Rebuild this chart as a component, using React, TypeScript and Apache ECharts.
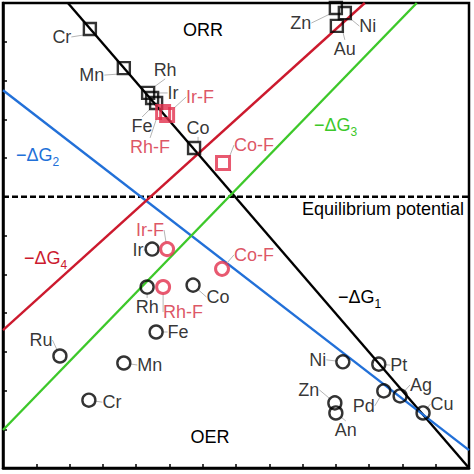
import { useEffect, useRef } from 'react';
import * as echarts from 'echarts';

const FONT = '"Liberation Sans", Arial, Helvetica, sans-serif';

// ORR (squares)
const orrNames = ['Cr', 'Mn', 'Rh', 'Ir', 'Fe', 'Co', 'Zn', 'Ni', 'Au'];
const orrX = [2.61, 3.63, 4.36, 4.48, 4.6, 5.74, 10.0, 10.27, 10.03];
const orrY = [11.33, 10.32, 9.68, 9.55, 9.42, 8.26, 11.87, 11.74, 11.41];
const orrFNames = ['Rh-F', 'Ir-F', 'Co-F'];
const orrFX = [4.81, 4.93, 6.61];
const orrFY = [9.19, 9.11, 7.87];

// OER (circles)
const oerNames = ['Ir', 'Rh', 'Co', 'Fe', 'Ru', 'Mn', 'Cr', 'Ni', 'Pt', 'Pd', 'Ag', 'Cu', 'Zn', 'An'];
const oerX = [4.48, 4.33, 5.71, 4.6, 1.71, 3.63, 2.58, 10.21, 11.29, 11.44, 11.93, 12.62, 9.97, 10.0];
const oerY = [5.65, 4.67, 4.72, 3.51, 2.89, 2.71, 1.75, 2.74, 2.68, 1.99, 1.86, 1.42, 1.68, 1.42];
const oerFNames = ['Ir-F', 'Rh-F', 'Co-F'];
const oerFX = [4.93, 4.81, 6.58];
const oerFY = [5.65, 4.67, 5.14];

// scaling lines (end points)
const dG1 = [[1.95, 12], [14, 0]];
const dG2 = [[0, 9.75], [14, 0.46]];
const dG3 = [[0, 0.98], [12.43, 12]];
const dG4 = [[0, 3.56], [10.87, 12]];
const equilibrium = [[0, 7], [14, 7]];

// label offsets in pixels (label centre relative to marker)
const orrOff = [[-28, 8], [-32, 7], [17, -23], [21, -5], [-14, 23], [4, -20], [-35, 15], [23, 13], [8, 23]];
const orrFOff = [[-13, 35], [33, -18], [31, -18]];
const oerOff = [[-14, 1], [0, 20], [25, 12], [22, 0], [-19, -16], [26, 2], [23, 2], [-25, -2], [20, 1], [-20, 15], [21, -11], [19, -9], [-26, -13], [10, 17]];
const oerFOff = [[-17, -19], [20, 25], [32, -14]];

const RED_LINE = '#cc1a2e';
const RED_MARK = '#e2304c';
const RED_TEXT = '#d42a3c';
const BLUE = '#2270d8';
const GREEN = '#3dc82a';

function points(names: string[], xs: number[], ys: number[]) {
  return names.map((n, i) => ({ name: n, value: [xs[i], ys[i]] }));
}

function markerSeries(
  names: string[], xs: number[], ys: number[], off: number[][],
  symbol: string, color: string, size: number, border: number,
) {
  return {
    type: 'scatter',
    symbol,
    symbolSize: size,
    data: points(names, xs, ys),
    itemStyle: { color: 'rgba(0,0,0,0)', borderColor: color, borderWidth: border },
    label: {
      show: true,
      position: 'inside',
      formatter: '{b}',
      color: color === '#000' ? '#000' : RED_TEXT,
      textBorderWidth: 0,
      fontSize: 18,
      fontFamily: FONT,
    },
    labelLine: { show: true, lineStyle: { color: '#b5b5b5', width: 1 } },
    labelLayout: (p: any) => ({ dx: off[p.dataIndex][0], dy: off[p.dataIndex][1] }),
    z: 5,
  };
}

function lineSeries(data: number[][], color: string, dashed = false) {
  return {
    type: 'line',
    data,
    showSymbol: false,
    symbol: 'none',
    lineStyle: { color, width: 2.4, type: dashed ? [6, 3] : 'solid' },
    z: 2,
  };
}

function subLabel(text: string, sub: string, x: number, y: number, color: string) {
  return {
    type: 'text',
    x,
    y,
    style: {
      text: `{a|${text}}{s|${sub}}`,
      fill: color,
      rich: {
        a: { fontSize: 18, fontFamily: FONT, lineHeight: 18, verticalAlign: 'top', color },
        s: { fontSize: 12, fontFamily: FONT, lineHeight: 12, padding: [10, 0, 0, 0], verticalAlign: 'top', color },
      },
    },
    z: 10,
  };
}

function plainText(text: string, x: number, y: number, align = 'center') {
  return {
    type: 'text',
    x,
    y,
    style: {
      text,
      fill: '#000',
      fontSize: 18,
      fontFamily: FONT,
      align,
      textAlign: align,
      verticalAlign: 'middle',
      textVerticalAlign: 'middle',
    },
    z: 10,
  };
}

export default function App() {
  const ref = useRef<HTMLDivElement>(null);

  useEffect(() => {
    if (!ref.current) return;
    const chart = echarts.init(ref.current, undefined, { renderer: 'svg' });

    const axisCommon = {
      type: 'value',
      interval: 1,
      axisLine: { show: true, lineStyle: { color: '#000', width: 2.5 } },
      axisTick: { show: true, inside: true, length: 4, lineStyle: { color: '#000', width: 1.5 } },
      axisLabel: { show: false },
      splitLine: { show: false },
    };

    chart.setOption({
      animation: false,
      backgroundColor: '#fff',
      grid: { left: 3, top: 3, right: 5, bottom: 6, show: true, borderColor: '#000', borderWidth: 2.5 },
      xAxis: { ...axisCommon, min: 0, max: 14 },
      yAxis: { ...axisCommon, min: 0, max: 12 },
      series: [
        lineSeries(equilibrium, '#000', true),
        lineSeries(dG1, '#000'),
        lineSeries(dG2, BLUE),
        lineSeries(dG3, GREEN),
        lineSeries(dG4, RED_LINE),
        markerSeries(orrNames, orrX, orrY, orrOff, 'rect', '#000', 12, 2.4),
        markerSeries(orrFNames, orrFX, orrFY, orrFOff, 'rect', RED_MARK, 13, 3),
        markerSeries(oerNames, oerX, oerY, oerOff, 'circle', '#000', 13, 2.4),
        markerSeries(oerFNames, oerFX, oerFY, oerFOff, 'circle', RED_MARK, 13, 3),
      ],
      graphic: [
        plainText('ORR', 203, 30),
        plainText('OER', 210, 437),
        plainText('Equilibrium potential', 464, 209, 'right'),
        subLabel('−ΔG', '1', 338, 288, '#000'),
        subLabel('−ΔG', '2', 16, 146, BLUE),
        subLabel('−ΔG', '3', 314, 116, GREEN),
        subLabel('−ΔG', '4', 24, 249, RED_LINE),
      ],
    });

    return () => chart.dispose();
  }, []);

  return <div ref={ref} style={{ position: 'absolute', left: 0, top: 0, width: 474, height: 474 }} />;
}
